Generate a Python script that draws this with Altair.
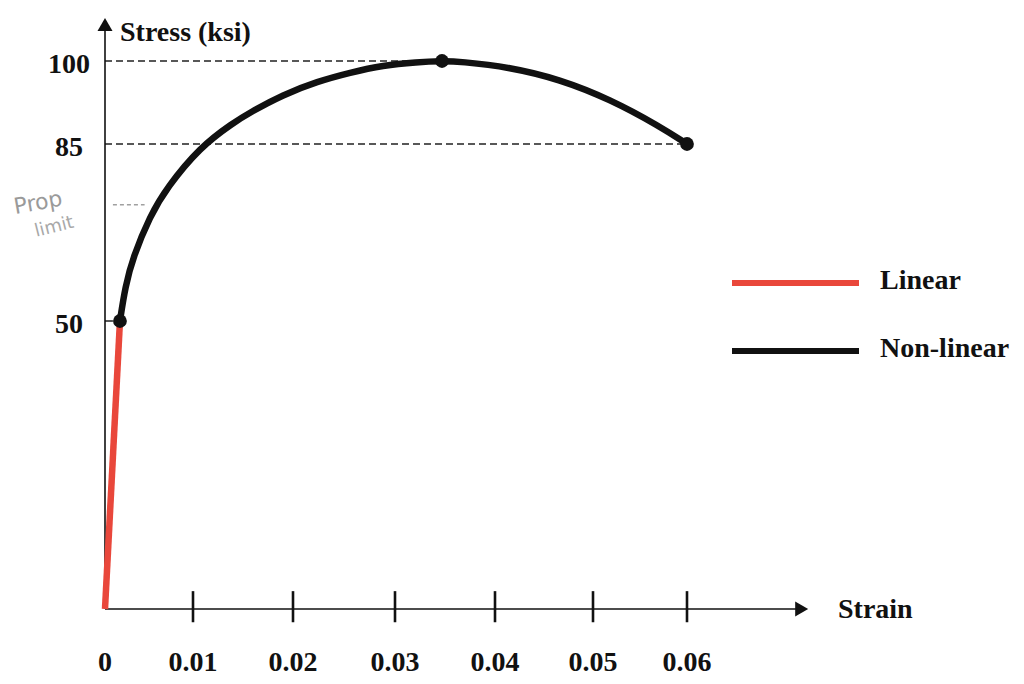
import altair as alt
import pandas as pd

# ---------------- data ----------------
series_names = ["Linear", "Non-linear"]
series_colors = ["#E9473B", "#111111"]

linear_strain = [0.0, 0.0017]
linear_stress = [0, 50]

nonlinear_strain = [0.0017, 0.0023, 0.0032, 0.0051, 0.0070, 0.0107, 0.0140, 0.0157,
                    0.0190, 0.0224, 0.0256, 0.0288, 0.0322, 0.0347, 0.0365, 0.0415,
                    0.0466, 0.0518, 0.0571, 0.0600]
nonlinear_stress = [50, 56.8, 62.7, 70.7, 76.3, 84.4, 88.8, 90.7,
                    93.9, 96.3, 97.9, 99.2, 99.8, 100, 99.9, 98.9,
                    96.7, 93.1, 88.2, 85]

key_strain = [0.0017, 0.0347, 0.06]
key_stress = [50, 100, 85]

x_tick_values = [0.01, 0.02, 0.03, 0.04, 0.05, 0.06]
x_label_values = [0, 0.01, 0.02, 0.03, 0.04, 0.05, 0.06]
x_label_texts = ["0", "0.01", "0.02", "0.03", "0.04", "0.05", "0.06"]

y_label_values = [100, 85, 50]
y_label_texts = ["100", "85", "50"]

ref_stress = [100, 85]
ref_strain_end = [0.0345, 0.06]

# ---------------- scales (layout) ----------------
X_DOMAIN = [0, 0.01, 0.02, 0.03, 0.04, 0.05, 0.06]
X_RANGE = [97, 185, 285, 387, 487, 585, 679]
Y_DOMAIN = [0, 50, 85, 100]
Y_RANGE = [601, 313, 136, 53]

xs = alt.Scale(domain=X_DOMAIN, range=X_RANGE, nice=False, zero=False)
ys = alt.Scale(domain=Y_DOMAIN, range=Y_RANGE, nice=False, zero=False)

FONT = "Liberation Serif"
FS = 28


def X(f):
    return alt.X(f, type="quantitative", scale=xs, axis=None)


def Y(f):
    return alt.Y(f, type="quantitative", scale=ys, axis=None)


# dashed reference lines
ref_df = pd.DataFrame({"x": [0, 0], "x2": ref_strain_end, "y": ref_stress})
ref = alt.Chart(ref_df).mark_rule(color="#222222", strokeWidth=1.3, strokeDash=[7, 4]).encode(
    x=X("x"), x2="x2", y=Y("y"))

# axes (drawn as arrows)
axis_df = pd.DataFrame({"x": [0, 0], "x2": [0.0722, 0], "y": [0, 0], "y2": [0, 106.5]})
axes = alt.Chart(axis_df).mark_rule(color="#111111", strokeWidth=1.6).encode(
    x=X("x"), x2="x2", y=Y("y"), y2="y2")

up_df = pd.DataFrame({"x": [0], "y": [106.6]})
up_arrow = alt.Chart(up_df).mark_point(shape="triangle-up", filled=True, size=225,
                                       color="#111111", opacity=1).encode(x=X("x"), y=Y("y"))
right_df = pd.DataFrame({"x": [0.0722], "y": [0]})
right_arrow = alt.Chart(right_df).mark_point(shape="triangle-right", filled=True, size=225,
                                             color="#111111", opacity=1).encode(x=X("x"), y=Y("y"))

tick_df = pd.DataFrame({"x": x_tick_values, "y": [-2.3] * len(x_tick_values),
                        "y2": [3.1] * len(x_tick_values)})
ticks = alt.Chart(tick_df).mark_rule(color="#111111", strokeWidth=2.6).encode(
    x=X("x"), y=Y("y"), y2="y2")

ytick_df = pd.DataFrame({"x": [0], "x2": [0.0009], "y": [50]})
ytick = alt.Chart(ytick_df).mark_rule(color="#111111", strokeWidth=1.4).encode(
    x=X("x"), x2="x2", y=Y("y"))

# curves
curve_df = pd.DataFrame({
    "strain": linear_strain + nonlinear_strain,
    "stress": linear_stress + nonlinear_stress,
    "series": [series_names[0]] * len(linear_strain) + [series_names[1]] * len(nonlinear_strain),
    "order": list(range(len(linear_strain))) + list(range(len(nonlinear_strain))),
})
curves = alt.Chart(curve_df).mark_line(strokeWidth=6.5, interpolate="basis", strokeCap="butt").encode(
    x=X("strain"), y=Y("stress"),
    color=alt.Color("series:N", scale=alt.Scale(domain=series_names, range=series_colors), legend=None),
    order="order:Q")

key_df = pd.DataFrame({"strain": key_strain, "stress": key_stress})
dots = alt.Chart(key_df).mark_point(shape="circle", filled=True, size=190, color="#111111",
                                    opacity=1).encode(x=X("strain"), y=Y("stress"))

# tick labels
xl_df = pd.DataFrame({"x": x_label_values, "t": x_label_texts})
xlabels = alt.Chart(xl_df).mark_text(font=FONT, fontSize=FS, fontWeight="bold", color="#111111",
                                     align="center", baseline="middle").encode(
    x=X("x"), y=alt.value(655), text="t:N")

yl_df = pd.DataFrame({"y": y_label_values, "t": y_label_texts})
ylabels = alt.Chart(yl_df).mark_text(font=FONT, fontSize=FS, fontWeight="bold", color="#111111",
                                     align="center", baseline="middle", dy=4).encode(
    x=alt.value(61), y=Y("y"), text="t:N")

# axis titles
ytitle = alt.Chart(pd.DataFrame({"t": ["Stress (ksi)"]})).mark_text(
    font=FONT, fontSize=FS, fontWeight="bold", color="#111111", align="left", baseline="middle").encode(
    x=alt.value(112), y=alt.value(25), text="t:N")
xtitle = alt.Chart(pd.DataFrame({"t": ["Strain"]})).mark_text(
    font=FONT, fontSize=FS, fontWeight="bold", color="#111111", align="left", baseline="middle").encode(
    x=alt.value(830), y=alt.value(602), text="t:N")

# legend (drawn)
leg_layers = []
leg_y = [275, 343]
for name, col, yy in zip(series_names, series_colors, leg_y):
    leg_layers.append(alt.Chart(pd.DataFrame({"s": [name]})).mark_rule(color=col, strokeWidth=6).encode(
        x=alt.value(724), x2=alt.value(851), y=alt.value(yy)))
    leg_layers.append(alt.Chart(pd.DataFrame({"s": [name]})).mark_text(
        font=FONT, fontSize=FS, fontWeight="bold", color="#111111", align="left", baseline="middle").encode(
        x=alt.value(872), y=alt.value(yy - 2), text="s:N"))

# pencil annotation
prop_dash = alt.Chart(pd.DataFrame({"x": [0.0009], "x2": [0.0045], "y": [73]})).mark_rule(
    color="#a0a0a0", strokeWidth=1.5, strokeDash=[4, 3]).encode(x=X("x"), x2="x2", y=Y("y"))
prop1 = alt.Chart(pd.DataFrame({"t": ["Prop"]})).mark_text(
    font="DejaVu Sans", fontSize=22, color="#9a9a9a", align="left", baseline="middle", angle=350).encode(
    x=alt.value(6), y=alt.value(199), text="t:N")
prop2 = alt.Chart(pd.DataFrame({"t": ["limit"]})).mark_text(
    font="DejaVu Sans", fontSize=18, color="#a8a8a8", align="left", baseline="middle", angle=346).encode(
    x=alt.value(27), y=alt.value(224), text="t:N")

chart = alt.layer(
    ref, prop_dash, axes, up_arrow, right_arrow, ticks, ytick, curves, dots,
    xlabels, ylabels, ytitle, xtitle, prop1, prop2, *leg_layers
).properties(
    width=1008, height=668, padding=0,
    autosize=alt.AutoSizeParams(type="none"),
    background="white",
).configure_view(strokeOpacity=0)

chart.save("out.html", embed_options={"renderer": "svg", "actions": False})
